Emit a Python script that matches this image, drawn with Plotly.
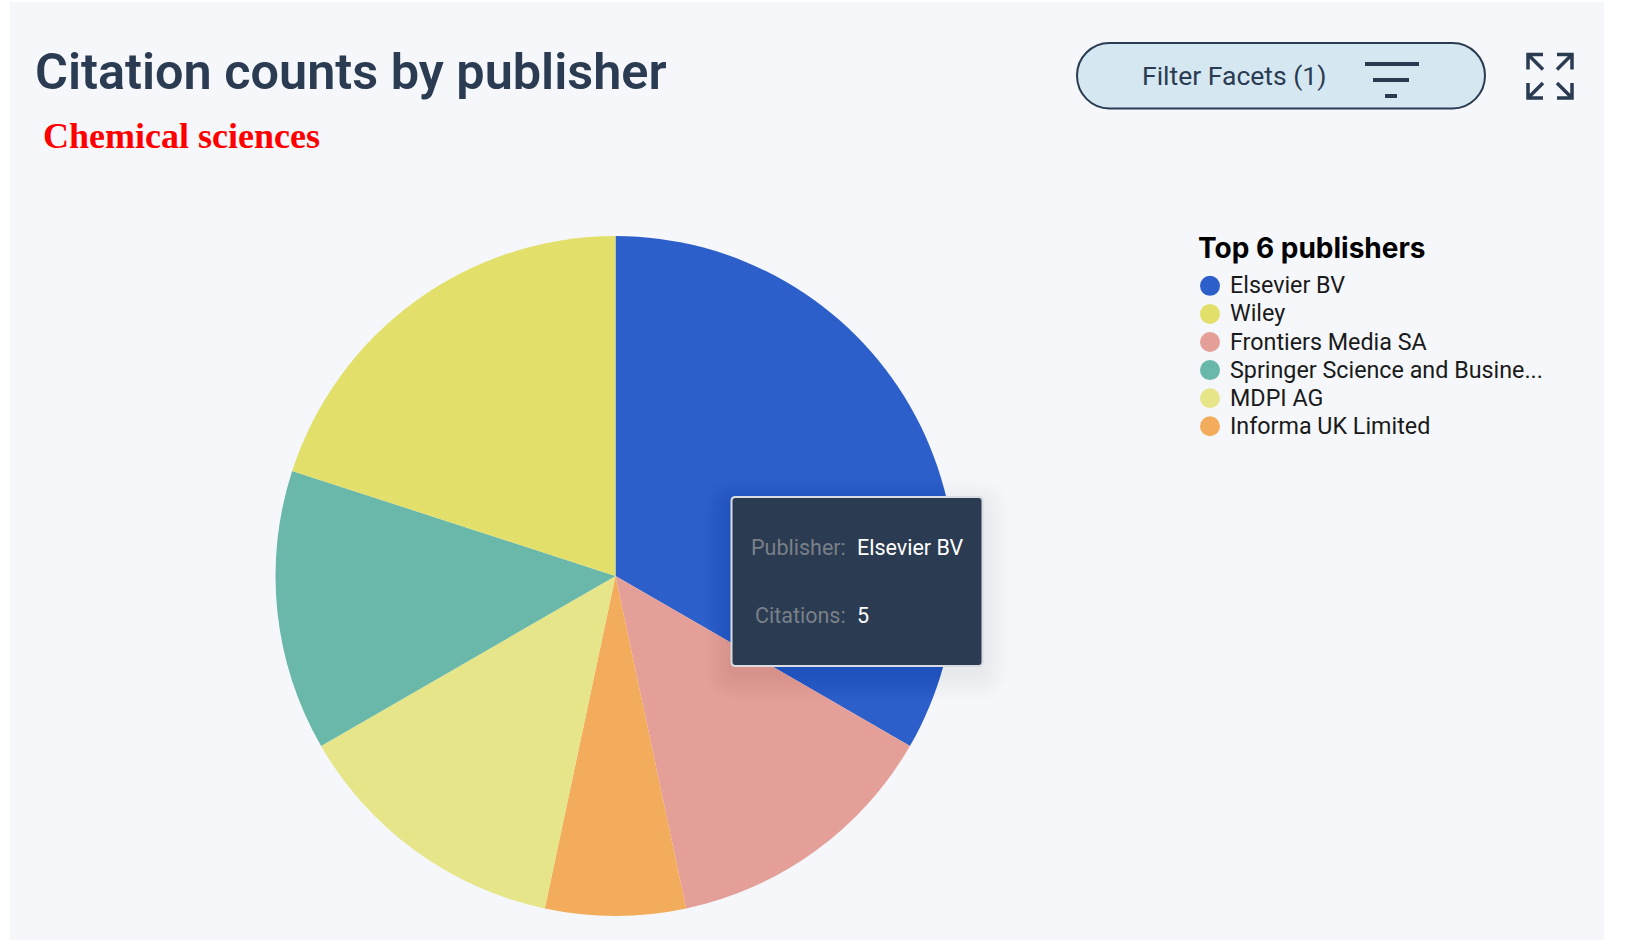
import plotly.graph_objects as go

slice_labels = ["Elsevier BV", "Frontiers Media SA", "Informa UK Limited", "MDPI AG",
                "Springer Science and Busine...", "Wiley"]
slice_values = [5, 2, 1, 2, 2, 3]
slice_colors = ["#2d5fcb", "#e49f98", "#f3ac5b", "#e6e589", "#69b8aa", "#e2e06b"]
legend_order = ["Elsevier BV", "Wiley", "Frontiers Media SA",
                "Springer Science and Busine...", "MDPI AG", "Informa UK Limited"]
title_text = "Citation counts by publisher"
subtitle_text = "Chemical sciences"
legend_title = "Top 6 publishers"
button_text = "Filter Facets (1)"
tooltip_rows = [("Publisher:", "Elsevier BV"), ("Citations:", "5")]

W, H = 1630, 940
NAVY = "#2a3b52"
FONT = "Roboto"


def rounded(x0, y0, x1, y1, r):
    return (f"M{x0+r},{y0} L{x1-r},{y0} Q{x1},{y0} {x1},{y0+r} L{x1},{y1-r} Q{x1},{y1} {x1-r},{y1} "
            f"L{x0+r},{y1} Q{x0},{y1} {x0},{y1-r} L{x0},{y0+r} Q{x0},{y0} {x0+r},{y0} Z")


def pill(x0, y0, x1, y1, r):
    k = r * 0.448
    return (f"M{x0+r},{y0} L{x1-r},{y0} C{x1-k},{y0} {x1},{y0+k} {x1},{y0+r} "
            f"C{x1},{y1-k} {x1-k},{y1} {x1-r},{y1} L{x0+r},{y1} "
            f"C{x0+k},{y1} {x0},{y1-k} {x0},{y0+r} C{x0},{y0+k} {x0+k},{y0} {x0+r},{y0} Z")


shapes = [dict(type="rect", x0=10, x1=1604, y0=2, y1=H, layer="below",
               fillcolor="#f5f7fa", line_width=0)]

# filter button
shapes.append(dict(type="path", path=pill(1077, 43, 1485, 108.5, 32.5), fillcolor="#d5e8f2",
                   line=dict(color=NAVY, width=2)))
for x0, x1, y in [(1365, 1419, 64), (1373, 1409, 80), (1385, 1397, 96)]:
    shapes.append(dict(type="line", x0=x0, x1=x1, y0=y, y1=y, line=dict(color=NAVY, width=4)))

# expand icon
L, R, T, B, A = 1528, 1572, 54.5, 98, 15
for cx, cy, sx, sy in [(L, T, 1, 1), (R, T, -1, 1), (L, B, 1, -1), (R, B, -1, -1)]:
    shapes.append(dict(type="path",
                       path=f"M{cx+sx*A},{cy} L{cx},{cy} L{cx},{cy+sy*A} M{cx},{cy} L{cx+sx*A},{cy+sy*A}",
                       line=dict(color=NAVY, width=3.5)))

# tooltip shadow and box
for grow in range(26, 0, -2):
    shapes.append(dict(type="path", path=rounded(731-grow, 505-grow, 983+grow, 675+grow, 6+grow),
                       fillcolor="rgba(30,40,60,0.004)", line_width=0))
shapes.append(dict(type="path", path=rounded(731.5, 497, 982.5, 666, 4), fillcolor=NAVY,
                   line=dict(color="#d9dde2", width=2)))

annotations = [
    dict(x=32.5, y=71, text=title_text, xanchor="left", yanchor="middle", showarrow=False,
         font=dict(family=FONT, size=50.4, color=NAVY, weight=600)),
    dict(x=41, y=136, text=f"<b>{subtitle_text}</b>", xanchor="left", yanchor="middle", showarrow=False,
         font=dict(family="Liberation Serif", size=36, color="#ff0000")),
    dict(x=1140, y=75, text=button_text, xanchor="left", yanchor="middle", showarrow=False,
         font=dict(family=FONT, size=26.5, color=NAVY)),
    dict(x=1196, y=248, text=f"<b>{legend_title}</b>", xanchor="left", yanchor="middle", showarrow=False,
         font=dict(family="Inter", size=28, color="#000000")),
]
for (k, v), y in zip(tooltip_rows, (547.5, 615.5)):
    annotations.append(dict(x=847.5, y=y, text=k, xanchor="right", yanchor="middle", showarrow=False,
                            font=dict(family=FONT, size=21.5, color="#7a8087")))
    annotations.append(dict(x=855, y=y, text=v, xanchor="left", yanchor="middle", showarrow=False,
                            font=dict(family=FONT, size=21.5, color="#ffffff")))

fig = go.Figure()
fig.add_trace(go.Pie(labels=slice_labels, values=slice_values, sort=False, direction="clockwise",
                     rotation=0, textinfo="none", showlegend=False,
                     marker=dict(colors=slice_colors, line=dict(width=0)),
                     domain=dict(x=[275.5 / W, 955.5 / W], y=[(H - 916) / H, (H - 236) / H]),
                     hovertemplate="Publisher: %{label}<br>Citations: %{value}<extra></extra>"))
color_of = dict(zip(slice_labels, slice_colors))
for name in legend_order:
    fig.add_trace(go.Scatter(x=[None], y=[None], mode="markers",
                             name=f'<span style="font-size:23.3px">{name}</span>',
                             marker=dict(size=16, color=color_of[name], symbol="circle",
                                         line=dict(width=4, color=color_of[name]))))

fig.update_layout(
    width=W, height=H, autosize=False, margin=dict(l=0, r=0, t=0, b=0),
    paper_bgcolor="#ffffff", plot_bgcolor="rgba(0,0,0,0)",
    xaxis=dict(visible=False, range=[0, W], domain=[0, 1], fixedrange=True),
    yaxis=dict(visible=False, range=[H, 0], domain=[0, 1], fixedrange=True),
    shapes=shapes, annotations=annotations,
    legend=dict(x=1190 / W, y=1 - 266.8 / H, xanchor="left", yanchor="top", bgcolor="rgba(0,0,0,0)",
                traceorder="normal", itemclick=False, itemdoubleclick=False,
                font=dict(family=FONT, size=19.3, color="#1a1a1a")),
)
fig.write_html("out.html", config=dict(displayModeBar=False),
               post_script="document.body.style.margin='0';document.body.style.overflow='hidden';")
